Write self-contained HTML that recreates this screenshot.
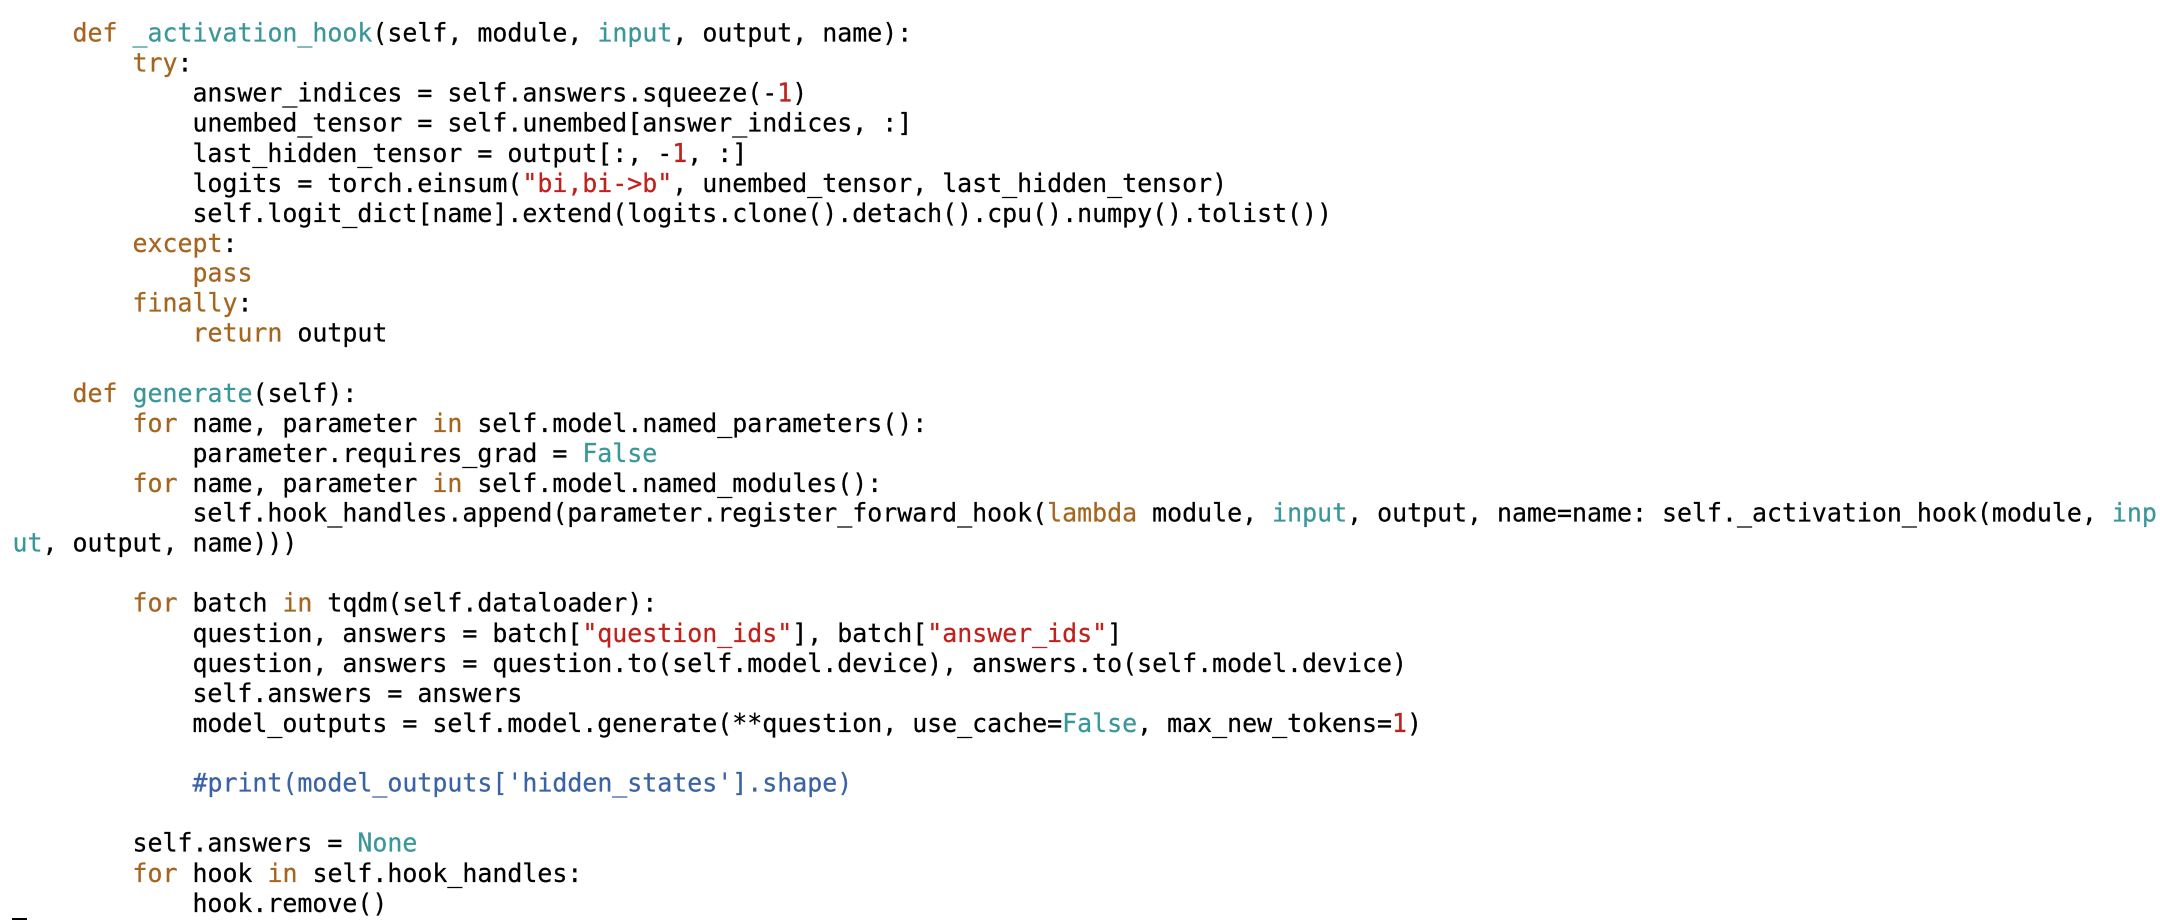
<!DOCTYPE html>
<html><head><meta charset="utf-8"><style>
html,body{margin:0;padding:0;background:#fff;width:2160px;height:920px;overflow:hidden}
pre{position:absolute;left:12.5px;top:18.1px;margin:0;font:24.92px/29.126px "DejaVu Sans Mono","Liberation Mono",monospace;color:#000;white-space:pre;transform:scaleY(1.03);transform-origin:0 0;-webkit-text-stroke:0.25px currentColor}
.k{color:#a5651f}.f{color:#3a9799}.s{color:#c0211c}.c{color:#3a62a6}
#cur{position:absolute;left:12px;top:918px;width:15px;height:2px;background:#000}
</style></head><body>
<pre>    <span class="k">def</span> <span class="f">_activation_hook</span>(self, module, <span class="f">input</span>, output, name):
        <span class="k">try</span>:
            answer_indices = self.answers.squeeze(-<span class="s">1</span>)
            unembed_tensor = self.unembed[answer_indices, :]
            last_hidden_tensor = output[:, -<span class="s">1</span>, :]
            logits = torch.einsum(<span class="s">"bi,bi-&gt;b"</span>, unembed_tensor, last_hidden_tensor)
            self.logit_dict[name].extend(logits.clone().detach().cpu().numpy().tolist())
        <span class="k">except</span>:
            <span class="k">pass</span>
        <span class="k">finally</span>:
            <span class="k">return</span> output

    <span class="k">def</span> <span class="f">generate</span>(self):
        <span class="k">for</span> name, parameter <span class="k">in</span> self.model.named_parameters():
            parameter.requires_grad = <span class="f">False</span>
        <span class="k">for</span> name, parameter <span class="k">in</span> self.model.named_modules():
            self.hook_handles.append(parameter.register_forward_hook(<span class="k">lambda</span> module, <span class="f">input</span>, output, name=name: self._activation_hook(module, <span class="f">inp</span>
<span class="f">ut</span>, output, name)))

        <span class="k">for</span> batch <span class="k">in</span> tqdm(self.dataloader):
            question, answers = batch[<span class="s">"question_ids"</span>], batch[<span class="s">"answer_ids"</span>]
            question, answers = question.to(self.model.device), answers.to(self.model.device)
            self.answers = answers
            model_outputs = self.model.generate(**question, use_cache=<span class="f">False</span>, max_new_tokens=<span class="s">1</span>)

            <span class="c">#print(model_outputs['hidden_states'].shape)</span>

        self.answers = <span class="f">None</span>
        <span class="k">for</span> hook <span class="k">in</span> self.hook_handles:
            hook.remove()</pre>
<div id="cur"></div>
</body></html>
